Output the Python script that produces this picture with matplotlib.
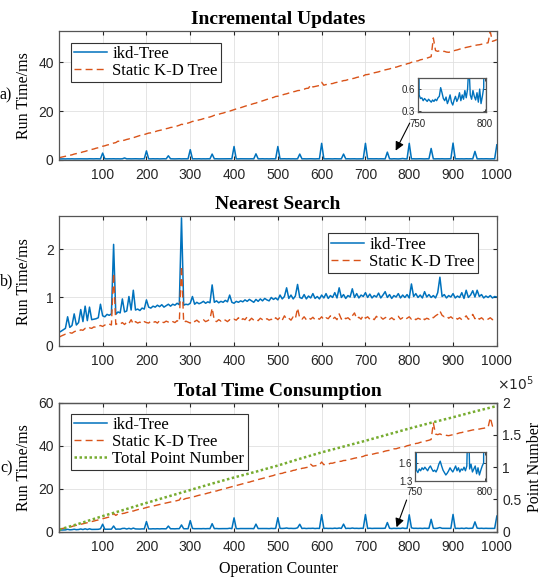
import numpy as np
import matplotlib.pyplot as plt
from matplotlib.ticker import FuncFormatter

plt.rcParams['font.family'] = 'Liberation Sans'
SERIF = 'Liberation Serif'

# operation counter: first operation, then every 5th one
ops = np.r_[1, np.arange(5, 1001, 5)]

# run time of the incremental updates (ms)
ikd_update = [0.40,
    0.42, 0.44, 0.41, 0.45, 0.43, 0.46, 0.42, 0.44, 0.47, 0.45,
    0.44, 0.46, 0.43, 0.47, 0.45, 0.44, 0.48, 0.46, 0.43, 2.8,
    0.46, 0.44, 0.47, 0.45, 0.48, 0.44, 0.46, 0.43, 0.47, 0.8,
    0.45, 0.47, 0.44, 0.46, 0.48, 0.45, 0.43, 0.47, 0.45, 3.7,
    0.46, 0.44, 0.48, 0.45, 0.47, 0.43, 0.46, 0.48, 0.44, 1.7,
    0.47, 0.45, 0.43, 0.46, 0.48, 0.44, 0.47, 0.45, 0.46, 4.2,
    0.44, 0.47, 0.45, 0.48, 0.43, 0.46, 0.44, 0.47, 0.45, 2.4,
    0.46, 0.48, 0.44, 0.45, 0.47, 0.43, 0.46, 0.48, 0.45, 5.5,
    0.45, 0.43, 0.47, 0.46, 0.44, 0.48, 0.45, 0.47, 0.44, 2.5,
    0.47, 0.45, 0.48, 0.44, 0.46, 0.43, 0.47, 0.45, 0.46, 5.5,
    0.44, 0.46, 0.48, 0.45, 0.47, 0.44, 0.46, 0.43, 0.47, 2.4,
    0.45, 0.47, 0.44, 0.46, 0.48, 0.45, 0.43, 0.47, 0.46, 6.8,
    0.46, 0.44, 0.47, 0.45, 0.43, 0.48, 0.46, 0.44, 0.47, 2.4,
    0.45, 0.48, 0.44, 0.46, 0.47, 0.43, 0.45, 0.48, 0.46, 6.8,
    0.44, 0.47, 0.45, 0.46, 0.48, 0.44, 0.47, 0.45, 0.43, 3.2,
    0.47, 0.42, 0.48, 0.44, 0.42, 0.47, 0.58, 0.46, 0.42, 6.8,
    0.45, 0.47, 0.44, 0.46, 0.48, 0.45, 0.43, 0.47, 0.46, 4.7,
    0.46, 0.44, 0.47, 0.45, 0.48, 0.44, 0.46, 0.45, 0.47, 6.9,
    0.45, 0.47, 0.44, 0.46, 0.43, 0.48, 0.45, 0.47, 0.44, 3.5,
    0.46, 0.44, 0.47, 0.45, 0.48, 0.46, 0.43, 0.47, 0.45, 6.2]

static_update = [0.9,
    1.1, 1.3, 1.5, 1.7, 1.9, 2.1, 2.4, 2.6, 2.8, 3.0,
    3.3, 3.5, 3.8, 4.0, 4.3, 4.5, 4.8, 5.0, 5.3, 5.6,
    5.8, 6.1, 6.3, 6.6, 6.9, 7.1, 7.7, 7.5, 7.9, 8.1,
    8.4, 8.6, 9.1, 9.1, 9.4, 9.7, 10.0, 10.1, 10.4, 10.7,
    11.0, 11.1, 11.4, 11.6, 11.9, 12.1, 12.3, 12.6, 12.8, 13.0,
    13.3, 13.4, 13.7, 13.9, 14.2, 14.6, 14.5, 14.9, 15.1, 15.4,
    15.8, 15.8, 16.1, 16.4, 16.6, 16.9, 17.1, 17.4, 17.6, 17.9,
    18.3, 18.4, 18.7, 19.0, 19.2, 19.5, 19.8, 20.0, 20.3, 20.6,
    20.9, 21.1, 21.4, 21.7, 22.0, 22.3, 22.5, 22.8, 23.1, 23.3,
    23.7, 23.9, 24.2, 24.5, 24.8, 25.1, 25.4, 25.6, 26.0, 26.1,
    26.4, 26.6, 26.9, 27.1, 27.4, 27.6, 27.9, 28.1, 28.4, 28.5,
    28.9, 29.0, 29.3, 29.4, 30.8, 29.9, 30.1, 30.3, 30.5, 31.8,
    30.6, 30.9, 30.8, 31.2, 31.3, 31.6, 31.8, 32.0, 32.2, 32.5,
    32.6, 32.9, 33.1, 33.3, 33.5, 33.8, 34.0, 34.2, 34.4, 34.9,
    35.0, 35.2, 35.4, 35.7, 35.9, 36.1, 36.4, 36.6, 36.9, 37.1,
    37.3, 37.6, 38.0, 38.0, 38.3, 38.6, 38.8, 39.0, 39.4, 39.6,
    40.0, 40.1, 40.5, 40.6, 41.0, 41.2, 41.5, 41.7, 42.0, 42.3,
    50.0, 44.8, 44.5, 44.8, 44.4, 44.5, 44.2, 44.1, 44.3, 44.6,
    44.9, 45.1, 45.4, 45.6, 45.9, 46.1, 46.3, 46.5, 46.7, 46.9,
    47.1, 47.2, 47.4, 47.6, 47.8, 48.0, 52.5, 48.6, 48.9, 49.3]

# run time of the nearest search (ms)
ikd_search = [0.28,
    0.30, 0.33, 0.36, 0.60, 0.38, 0.42, 0.66, 0.43, 0.48, 0.75,
    0.50, 0.82, 0.52, 0.80, 0.54, 0.55, 0.56, 0.58, 0.86, 0.62,
    0.60, 0.65, 0.63, 0.66, 2.10, 0.65, 0.70, 0.68, 0.97, 0.70,
    0.72, 1.02, 0.74, 1.15, 0.74, 0.76, 0.73, 0.78, 0.76, 0.95,
    0.80, 0.78, 0.82, 0.80, 0.84, 0.81, 0.85, 0.80, 0.83, 0.86,
    0.82, 0.86, 0.84, 0.88, 0.85, 2.65, 0.84, 0.86, 0.85, 0.88,
    1.02, 0.86, 0.90, 0.87, 0.89, 0.92, 0.88, 0.91, 0.89, 1.26,
    0.90, 0.93, 0.89, 0.92, 0.90, 0.94, 0.91, 1.05, 0.90, 0.88,
    0.92, 0.90, 0.93, 0.91, 0.95, 0.92, 0.96, 0.93, 0.90, 0.96,
    0.92, 0.97, 0.93, 0.98, 0.95, 0.93, 1.00, 0.96, 0.99, 0.95,
    1.05, 0.97, 1.02, 1.20, 0.98, 1.05, 0.97, 1.03, 1.27, 1.00,
    0.98, 1.06, 0.97, 1.03, 0.99, 1.08, 0.98, 1.02, 0.97, 1.05,
    0.99, 1.08, 0.98, 1.04, 1.00, 1.10, 0.99, 1.20, 1.00, 1.06,
    0.98, 1.04, 1.01, 1.18, 1.00, 1.08, 0.99, 1.05, 1.02, 1.10,
    1.00, 1.07, 0.99, 1.04, 1.01, 1.09, 0.99, 1.05, 1.12, 1.00,
    1.06, 0.98, 1.04, 1.01, 1.08, 0.99, 1.05, 1.00, 1.06, 0.99,
    1.28, 1.02, 1.08, 1.00, 1.05, 0.99, 1.12, 1.01, 1.06, 1.00,
    1.04, 0.99, 1.10, 1.42, 1.02, 1.06, 0.99, 1.04, 1.01, 1.08,
    0.99, 1.03, 1.00, 1.10, 0.98, 1.15, 1.00, 1.05, 1.14, 1.01,
    1.15, 1.02, 1.06, 0.99, 1.03, 1.00, 1.04, 0.99, 1.02, 1.01]

static_search = [0.18,
    0.20, 0.22, 0.24, 0.25, 0.27, 0.26, 0.29, 0.31, 0.30, 0.33,
    0.32, 0.36, 0.34, 0.37, 0.36, 0.39, 0.38, 0.40, 0.42, 0.40,
    0.43, 0.42, 0.45, 0.43, 1.50, 0.44, 0.47, 0.45, 0.48, 0.44,
    0.49, 0.46, 0.54, 0.45, 0.50, 0.47, 0.49, 0.46, 0.50, 0.48,
    0.47, 0.51, 0.48, 0.50, 0.47, 0.52, 0.49, 0.48, 0.51, 0.49,
    0.47, 0.50, 0.48, 0.52, 0.49, 1.65, 0.48, 0.51, 0.49, 0.47,
    0.52, 0.50, 0.53, 0.49, 0.51, 0.54, 0.50, 0.52, 0.55, 0.78,
    0.52, 0.50, 0.54, 0.51, 0.55, 0.53, 0.50, 0.54, 0.52, 0.55,
    0.53, 0.58, 0.52, 0.56, 0.54, 0.60, 0.52, 0.57, 0.53, 0.55,
    0.52, 0.57, 0.54, 0.52, 0.56, 0.53, 0.55, 0.52, 0.58, 0.54,
    0.59, 0.53, 0.62, 0.55, 0.57, 0.53, 0.60, 0.56, 0.78, 0.57,
    0.55, 0.60, 0.54, 0.58, 0.55, 0.59, 0.54, 0.57, 0.55, 0.60,
    0.54, 0.58, 0.56, 0.62, 0.55, 0.59, 0.54, 0.66, 0.55, 0.60,
    0.56, 0.58, 0.54, 0.62, 0.68, 0.56, 0.59, 0.55, 0.63, 0.57,
    0.60, 0.55, 0.58, 0.54, 0.61, 0.56, 0.59, 0.55, 0.58, 0.60,
    0.55, 0.58, 0.54, 0.57, 0.61, 0.55, 0.58, 0.54, 0.57, 0.60,
    0.55, 0.58, 0.54, 0.57, 0.55, 0.59, 0.54, 0.57, 0.55, 0.60,
    0.58, 0.62, 0.65, 0.72, 0.63, 0.60, 0.62, 0.57, 0.60, 0.56,
    0.59, 0.55, 0.58, 0.54, 0.57, 0.62, 0.55, 0.58, 0.65, 0.56,
    0.60, 0.55, 0.58, 0.54, 0.57, 0.55, 0.58, 0.54, 0.56, 0.55]

# total number of points in the tree
point_ops = [1, 50, 100, 150, 200, 250, 300, 350, 400, 450, 500,
             550, 600, 650, 700, 750, 800, 850, 900, 950, 1000]
point_number = [3000, 13000, 24000, 34000, 44500, 54500, 64500, 74500, 84000, 93000,
                102500, 113000, 123000, 132000, 141000, 150500, 160000, 169000,
                177500, 186500, 195000]

# zoomed windows, every operation from 750 to 800
zoom_ops = np.arange(750, 801)
ikd_update_zoom = [3.2,
    0.52, 0.47, 0.48, 0.44, 0.47, 0.45, 0.43, 0.46, 0.44, 0.42,
    0.45, 0.43, 0.46, 0.44, 0.48, 0.50, 0.62, 0.55, 0.47, 0.44,
    0.49, 0.40, 0.45, 0.52, 0.42, 0.38, 0.45, 0.50, 0.43, 0.47,
    0.55, 0.44, 0.52, 0.46, 0.58, 0.48, 0.60, 0.95, 0.52, 0.46,
    0.58, 0.50, 0.45, 0.55, 0.42, 0.60, 0.40, 0.50, 0.62, 6.8]
ikd_total_zoom = [4.5,
    1.48, 1.44, 1.50, 1.47, 1.52, 1.49, 1.53, 1.50, 1.47, 1.52,
    1.55, 1.50, 1.46, 1.48, 1.45, 1.50, 1.58, 1.63, 1.55, 1.48,
    1.44, 1.40, 1.43, 1.47, 1.52, 1.48, 1.45, 1.50, 1.55, 1.47,
    1.52, 1.45, 1.50, 1.48, 1.53, 1.47, 1.55, 2.50, 1.50, 1.58,
    1.45, 1.50, 1.55, 1.42, 1.52, 1.40, 1.48, 1.55, 1.60, 8.0]

# total = update + search
ikd_total = np.array(ikd_update) + np.array(ikd_search)
static_total = np.array(static_update) + np.array(static_search)

BLUE = '#0072BD'
ORANGE = '#D95319'
GREEN = '#77AC30'
EDGE = '#555555'


def style(ax, right=True):
    ax.set_xlim(1, 1000)
    ax.set_xticks(range(100, 1001, 100))
    ax.grid(True, color='#e0e0e0', lw=0.6)
    ax.set_axisbelow(True)
    ax.tick_params(direction='in', length=3, width=0.8, top=True, right=right,
                   labelsize=10, colors='#262626', pad=4)
    ax.tick_params(axis='x', pad=6)
    for s in ax.spines.values():
        s.set_color(EDGE)
        s.set_linewidth(0.9)
    ax.set_ylabel('Run Time/ms', family=SERIF, fontsize=11.5)
    ax.yaxis.set_label_coords(-0.062, 0.5)


def style_inset(ax, ylim, yticks):
    ax.set_xlim(750, 801)
    ax.set_ylim(*ylim)
    ax.set_xticks([750, 800])
    ax.set_yticks(yticks)
    ax.grid(True, color='#e0e0e0', lw=0.5)
    ax.tick_params(direction='in', length=2, width=0.6, top=True, right=True,
                   labelsize=7, colors='#262626', pad=2)
    ax.tick_params(axis='x', pad=4.5)
    for s in ax.spines.values():
        s.set_color(EDGE)
        s.set_linewidth(0.9)


def add_legend(ax, handles, loc, anchor):
    leg = ax.legend(handles=handles, loc=loc, bbox_to_anchor=anchor, borderaxespad=0,
                    prop={'family': SERIF, 'size': 12}, handlelength=2.0,
                    handletextpad=0.3, labelspacing=0.05, borderpad=0.2,
                    fancybox=False, framealpha=1, edgecolor='#333333')
    leg.get_frame().set_linewidth(0.8)


arrow = dict(arrowstyle='-|>', color='black', lw=0.8, mutation_scale=13,
             shrinkA=0, shrinkB=0)

fig = plt.figure(figsize=(5.49, 5.88), dpi=100)
L, W = 0.108, 0.797
ax_a = fig.add_axes([L, 0.728, W, 0.220])
ax_b = fig.add_axes([L, 0.412, W, 0.220])
ax_c = fig.add_axes([L, 0.096, W, 0.219])

# a) incremental updates
la1, = ax_a.plot(ops, ikd_update, color=BLUE, lw=1.1, label='ikd-Tree')
la2, = ax_a.plot(ops, static_update, color=ORANGE, lw=1.0, ls=(0, (5, 3)),
                 label='Static K-D Tree')
style(ax_a)
ax_a.set_ylim(0, 53)
ax_a.set_yticks([0, 20, 40])
ax_a.set_title('Incremental Updates', family=SERIF, fontweight='bold', fontsize=14, pad=5)
add_legend(ax_a, [la1, la2], 'upper left', (0.026, 0.907))
ax_a.annotate('', xy=(769, 3.8), xytext=(801, 15.1), arrowprops=arrow)

# b) nearest search
lb1, = ax_b.plot(ops, ikd_search, color=BLUE, lw=1.1, label='ikd-Tree')
lb2, = ax_b.plot(ops, static_search, color=ORANGE, lw=1.0, ls=(0, (5, 3)),
                 label='Static K-D Tree')
style(ax_b)
ax_b.set_ylim(0, 2.68)
ax_b.set_yticks([0, 1, 2])
ax_b.set_title('Nearest Search', family=SERIF, fontweight='bold', fontsize=14, pad=5)
add_legend(ax_b, [lb1, lb2], 'upper right', (0.957, 0.868))

# c) total time
lc1, = ax_c.plot(ops, ikd_total, color=BLUE, lw=1.1, label='ikd-Tree')
lc2, = ax_c.plot(ops, static_total, color=ORANGE, lw=1.0, ls=(0, (5, 3)),
                 label='Static K-D Tree')
style(ax_c, right=False)
ax_c.set_ylim(0, 60)
ax_c.set_yticks([0, 20, 40, 60])
ax_c.set_title('Total Time Consumption', family=SERIF, fontweight='bold', fontsize=14, pad=5)
ax_c.set_xlabel('Operation Counter', family=SERIF, fontsize=11.5, labelpad=5)
ax_c.annotate('', xy=(771, 2.0), xytext=(794, 14.7), arrowprops=arrow)

ax_r = ax_c.twinx()
lc3, = ax_r.plot(point_ops, point_number, color=GREEN, lw=1.8, ls=(0, (1, 1)),
                 label='Total Point Number')
ax_r.set_ylim(0, 2e5)
ax_r.set_yticks([0, 0.5e5, 1e5, 1.5e5, 2e5])
ax_r.yaxis.set_major_formatter(FuncFormatter(lambda v, p: f'{v / 1e5:g}'))
ax_r.tick_params(direction='in', length=3, width=0.8, labelsize=10, colors='#262626', pad=4)
for s in ax_r.spines.values():
    s.set_color(EDGE)
    s.set_linewidth(0.9)
ax_r.set_ylabel('Point Number', family=SERIF, fontsize=11.5)
ax_r.text(1.0, 1.075, r'$\times10^5$', transform=ax_r.transAxes, ha='left', va='bottom',
          fontsize=10, color='#262626')
add_legend(ax_r, [lc1, lc2, lc3], 'upper left', (0.026, 0.915))

# zoomed insets
ins_a = fig.add_axes([0.761, 0.809, 0.125, 0.058])
ins_a.plot(zoom_ops, ikd_update_zoom, color=BLUE, lw=1.0)
style_inset(ins_a, (0.28, 0.75), [0.3, 0.6])

ins_c = fig.add_axes([0.756, 0.182, 0.130, 0.049])
ins_c.plot(zoom_ops, ikd_total_zoom, color=BLUE, lw=1.0)
style_inset(ins_c, (1.3, 1.78), [1.3, 1.6])

# panel letters
for y, letter in [(0.838, 'a)'), (0.522, 'b)'), (0.204, 'c)')]:
    fig.text(0.0, y, letter, family=SERIF, fontsize=11.5, va='center', ha='left')

fig.savefig('out.png', dpi=100)
